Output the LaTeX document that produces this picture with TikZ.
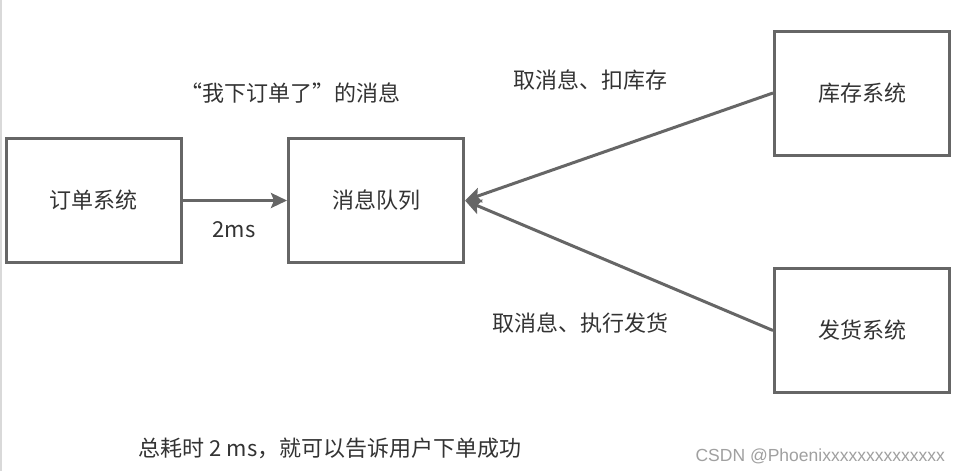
\documentclass[tikz,border=0pt]{standalone}
\usepackage{fontspec}
\setmainfont{Noto Sans CJK SC}
\newfontfamily\wmfont{Liberation Sans}
\usetikzlibrary{arrows.meta}
\definecolor{linegray}{HTML}{666666}
\definecolor{textgray}{HTML}{333333}
\definecolor{markgray}{HTML}{A0A0A0}

\begin{document}
\begin{tikzpicture}[x=1pt, y=-1pt,
    box/.style={draw=linegray, line width=3pt, minimum width=175pt, minimum height=124pt, inner sep=0pt, text=textgray, font=\fontsize{22}{26}\selectfont},
    lbl/.style={text=textgray, inner sep=0pt, font=\fontsize{22}{26}\selectfont},
    arr/.style={draw=linegray, line width=3pt, -{Stealth[length=16pt, width=15pt, inset=3pt]}}]
      \useasboundingbox (0, 0) rectangle (959, 471);
      \fill[white] (0, 0) rectangle (959, 471);
      \draw[black!15, line width=1.5pt] (0.75, 0) -- (0.75, 471);

      \node[box] (order) at (93.5, 200.5) {订单系统};
      \node[box] (mq) at (376, 200.5) {消息队列};
      \node[box] (stock) at (862, 93) {库存系统};
      \node[box] (ship) at (862, 330.5) {发货系统};

      \draw[arr] (order) -- (mq);
      \draw[arr] (stock.west) -- (mq.east);
      \draw[arr] (ship.west) -- (mq.east);

      \node[lbl, font=\fontsize{22}{26}\selectfont\addfontfeature{CharacterWidth=Full}] (msg) at (290, 93) {“我下订单了”的消息};
      \node[lbl] (cost) at (234, 230) {2ms};
      \node[lbl] (take1) at (590, 80) {取消息、扣库存};
      \node[lbl] (take2) at (580, 323) {取消息、执行发货};
      \node[lbl] (total) at (330, 448) {总耗时 2 ms，就可以告诉用户下单成功};
      \node[text=markgray, inner sep=0pt, anchor=east, font=\wmfont\fontsize{17.5}{20}\selectfont] (mark) at (945, 456) {CSDN @Phoenixxxxxxxxxxxxxx};
    \end{tikzpicture}
\end{document}
